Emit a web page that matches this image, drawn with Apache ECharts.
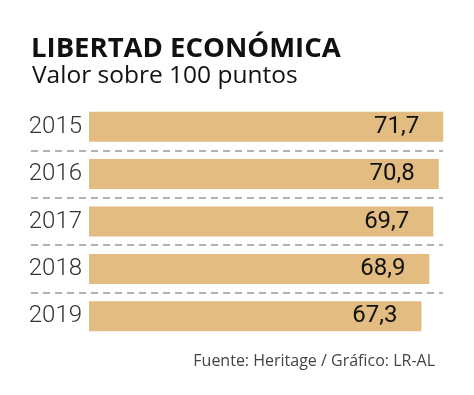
<!DOCTYPE html>
<html><head><meta charset="utf-8">
<script src="https://cdn.jsdelivr.net/npm/echarts@6/dist/echarts.min.js"></script>
<style>html,body{margin:0;padding:0;background:#fff}#c{width:474px;height:395px}</style>
</head><body><div id="c"></div>
<script>
const categories = ['2015','2016','2017','2018','2019'];
const values = [71.7, 70.8, 69.7, 68.9, 67.3];
const titleText = 'LIBERTAD ECONÓMICA';
const subtitleText = 'Valor sobre 100 puntos';
const sourceText = 'Fuente: Heritage / Gráfico: LR-AL';

const separators = [];
for (let i = 1; i < categories.length; i++) separators.push({yAxis: i});

const chart = echarts.init(document.getElementById('c'), null, {renderer:'canvas'});
chart.setOption({
  backgroundColor: '#fff',
  animation: false,
  title: [
    {text: titleText, left: 26, top: 30, textStyle:{fontFamily:'Open Sans', fontWeight:'bold', fontSize:27.5, color:'#111'}},
    {text: subtitleText, left: 27, top: 59, textStyle:{fontFamily:'Open Sans', fontWeight:'normal', fontSize:24.5, color:'#111'}},
    {text: sourceText, right: 34, top: 348, textStyle:{fontFamily:'Open Sans', fontWeight:'normal', fontSize:16, color:'#444'}}
  ],
  grid: [
    {left: 89, right: 474-89-72*4.94, top: 103, height: 237, containLabel:false},
    {left: 31, right: 31, top: 103, height: 237, containLabel:false}
  ],
  xAxis: [
    {gridIndex:0, type:'value', min:0, max:72, show:false},
    {gridIndex:1, type:'value', min:0, max:1, show:false}
  ],
  yAxis: [
    {gridIndex:0, type:'category', data:categories, inverse:true,
     axisLine:{show:false}, axisTick:{show:false}, splitLine:{show:false},
     axisLabel:{margin:7, fontFamily:'Roboto', fontWeight:300, fontSize:24, color:'#333'}},
    {gridIndex:1, type:'value', min:0, max:categories.length, inverse:true, show:false}
  ],
  series: [
    {type:'bar', xAxisIndex:0, yAxisIndex:0, data:values, barWidth:30,
     itemStyle:{color:'#E2BC80'},
     label:{show:true, position:'insideRight', distance:24, fontFamily:'Roboto', fontSize:24, color:'#111',
       formatter: p => String(p.value).replace('.', ',')}},
    {type:'line', xAxisIndex:1, yAxisIndex:1, data:[], silent:true,
     markLine:{silent:true, symbol:['none','none'], label:{show:false},
       lineStyle:{type:[7,5], color:'#999', width:1.5}, data: separators}}
  ]
});
</script></body></html>
